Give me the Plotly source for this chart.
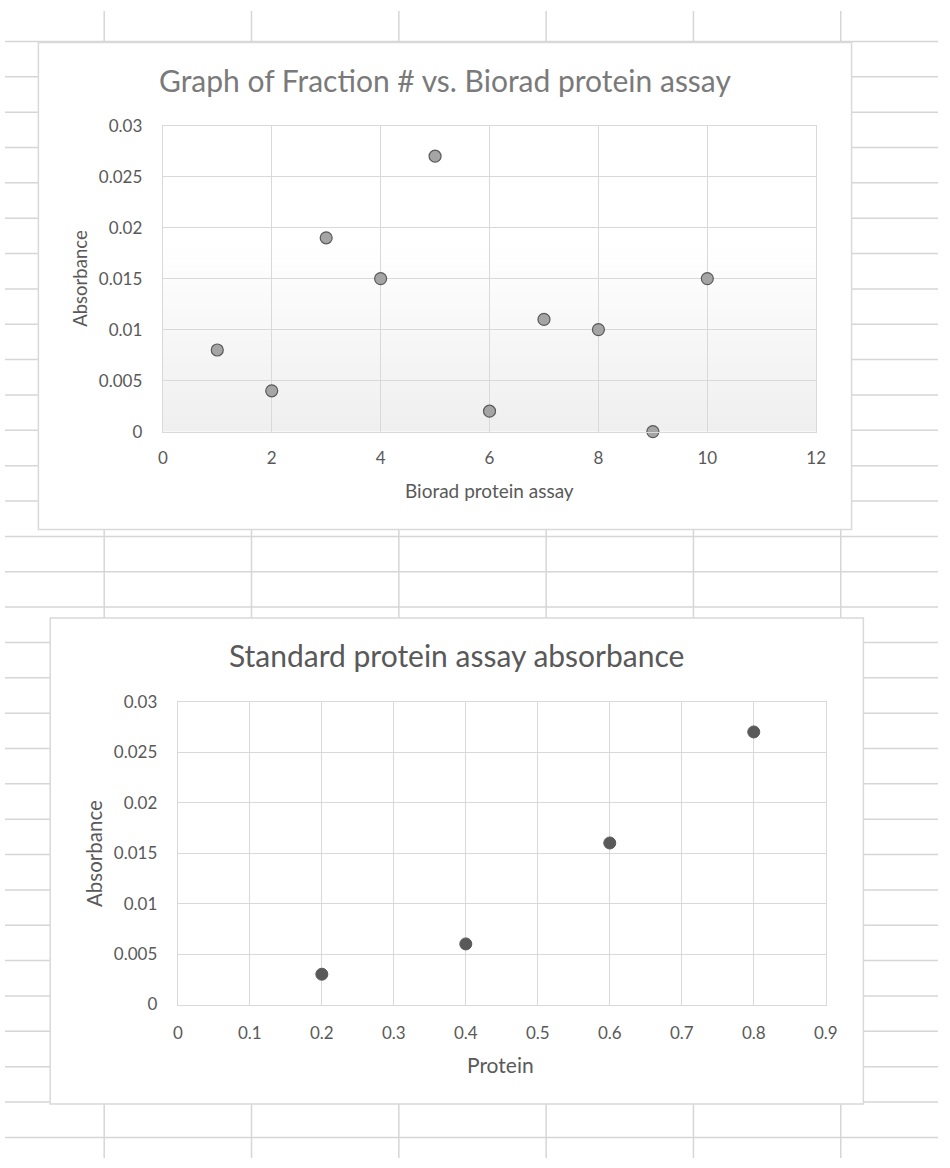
import plotly.graph_objects as go

# ---- data ----
fraction_x = [1, 2, 3, 4, 5, 6, 7, 8, 9, 10]
fraction_abs = [0.008, 0.004, 0.019, 0.015, 0.027, 0.002, 0.011, 0.010, 0.000, 0.015]

protein_x = [0.2, 0.4, 0.6, 0.8]
protein_abs = [0.003, 0.006, 0.016, 0.027]

y_ticks = [0, 0.005, 0.01, 0.015, 0.02, 0.025, 0.03]
y_tick_text = ["0", "0.005", "0.01", "0.015", "0.02", "0.025", "0.03"]
x1_ticks = [0, 2, 4, 6, 8, 10, 12]
x2_ticks = [0, 0.1, 0.2, 0.3, 0.4, 0.5, 0.6, 0.7, 0.8, 0.9]
x2_tick_text = ["0", "0.1", "0.2", "0.3", "0.4", "0.5", "0.6", "0.7", "0.8", "0.9"]

W, H = 950, 1168
FONT = "Lato"
GRID = "#d9d9d9"
TXT = "#595959"


def px(x):
    return x / W


def py(y):
    return 1 - y / H


fig = go.Figure()

fig.add_trace(go.Scatter(
    x=fraction_x, y=fraction_abs, mode="markers", xaxis="x", yaxis="y",
    marker=dict(size=12, color="#a5a5a5", line=dict(color="#5a5a5a", width=1.2)),
    showlegend=False, cliponaxis=False))

fig.add_trace(go.Scatter(
    x=protein_x, y=protein_abs, mode="markers", xaxis="x2", yaxis="y2",
    marker=dict(size=12, color="#595959", line=dict(color="#595959", width=1)),
    showlegend=False, cliponaxis=False))

shapes = []
# spreadsheet grid background
for k in range(0, 33):
    y = 31 + 36 * k
    shapes.append(dict(type="line", xref="paper", yref="paper", x0=0, x1=1,
                       y0=py(y), y1=py(y), line=dict(color="#d6d6d6", width=1.5), layer="below"))
for x in [101, 251, 401, 551, 701, 851]:
    shapes.append(dict(type="line", xref="paper", yref="paper", x0=px(x), x1=px(x),
                       y0=0, y1=1, line=dict(color="#d6d6d6", width=1.5), layer="below"))
# chart boxes
for (x0, y0, x1, y1) in [(34, 32, 862, 528), (46, 618, 874, 1113)]:
    shapes.append(dict(type="rect", xref="paper", yref="paper", x0=px(x0), x1=px(x1),
                       y0=py(y1), y1=py(y0), fillcolor="white",
                       line=dict(color="#d9d9d9", width=1.5), layer="below"))
# gradient in chart 1 plot area
N = 40
for i in range(N):
    f0 = i / N
    f1 = (i + 1) / N
    t = max(0.0, 1 - (f0 + f1) / 2 / 0.62)
    c = int(round(255 - 16 * t))
    shapes.append(dict(type="rect", xref="x domain", yref="y domain", x0=0, x1=1,
                       y0=f0, y1=f1 + 0.002, fillcolor=f"rgb({c},{c},{c})",
                       line=dict(width=0), layer="below"))

axis_common = dict(showgrid=True, gridcolor=GRID, gridwidth=1.3, zeroline=False,
                   showline=True, linecolor=GRID, linewidth=1.3, mirror=True,
                   ticks="outside", ticklen=0, tickcolor="rgba(0,0,0,0)",
                   color=TXT)

fig.update_layout(
    width=W, height=H, margin=dict(l=0, r=0, t=0, b=0),
    paper_bgcolor="white", plot_bgcolor="rgba(0,0,0,0)",
    font=dict(family=FONT, color=TXT),
    shapes=shapes,
    xaxis=dict(domain=[px(160.7), px(826)], anchor="y", range=[0, 12],
               tickvals=x1_ticks, tickfont=dict(size=17), ticklabelstandoff=11,
               **axis_common),
    yaxis=dict(domain=[py(428.3), py(116.7)], anchor="x", range=[0, 0.03],
               tickvals=y_ticks, ticktext=y_tick_text, tickfont=dict(size=17),
               ticklabelstandoff=16, **axis_common),
    xaxis2=dict(domain=[px(176), px(835.7)], anchor="y2", range=[0, 0.9],
                tickvals=x2_ticks, ticktext=x2_tick_text, tickfont=dict(size=17),
                ticklabelstandoff=13, **axis_common),
    yaxis2=dict(domain=[py(1011.7), py(703.3)], anchor="x2", range=[0, 0.03],
                tickvals=y_ticks, ticktext=y_tick_text, tickfont=dict(size=17),
                ticklabelstandoff=16, **axis_common),
    annotations=[
        dict(text="Graph of Fraction # vs. Biorad protein assay", x=px(448), y=py(70),
             xref="paper", yref="paper", showarrow=False, xanchor="center", yanchor="middle",
             font=dict(size=30, color="#7a7a7a", family=FONT)),
        dict(text="Biorad protein assay", x=px(493), y=py(488),
             xref="paper", yref="paper", showarrow=False, xanchor="center", yanchor="middle",
             font=dict(size=19, color=TXT, family=FONT)),
        dict(text="Absorbance", x=px(76), y=py(272), textangle=-90,
             xref="paper", yref="paper", showarrow=False, xanchor="center", yanchor="middle",
             font=dict(size=18.5, color=TXT, family=FONT)),
        dict(text="Standard protein assay absorbance", x=px(460), y=py(656),
             xref="paper", yref="paper", showarrow=False, xanchor="center", yanchor="middle",
             font=dict(size=30, color=TXT, family=FONT)),
        dict(text="Protein", x=px(505), y=py(1073),
             xref="paper", yref="paper", showarrow=False, xanchor="center", yanchor="middle",
             font=dict(size=21, color=TXT, family=FONT)),
        dict(text="Absorbance", x=px(90), y=py(858), textangle=-90,
             xref="paper", yref="paper", showarrow=False, xanchor="center", yanchor="middle",
             font=dict(size=20.5, color=TXT, family=FONT)),
    ],
)

fig.write_html("out.html")
